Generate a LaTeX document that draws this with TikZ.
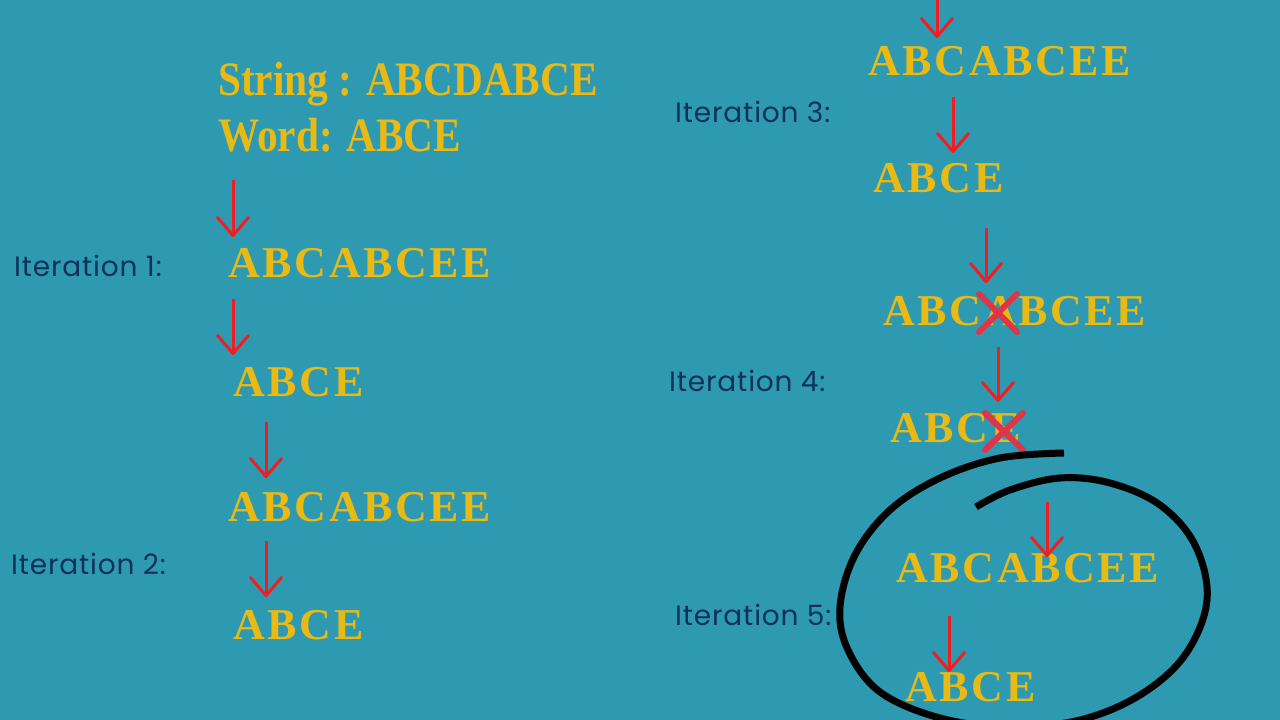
\documentclass[tikz,border=0pt]{standalone}
\usepackage{fontspec}
\setmainfont{Liberation Serif}
\newfontfamily\titlefont{Liberation Serif Bold}[FakeStretch=0.86]
\newfontfamily\wordfont{Liberation Serif Bold}[LetterSpace=6]
\newfontfamily\labelfont{Poppins}[LetterSpace=3]
\usetikzlibrary{arrows.meta}

\definecolor{bgteal}{RGB}{46,154,178}
\definecolor{wordyellow}{RGB}{233,185,20}
\definecolor{labelnavy}{RGB}{16,50,90}
\definecolor{arrowred}{RGB}{240,30,32}
\definecolor{crossred}{RGB}{224,52,72}

\begin{document}
\begin{tikzpicture}[x=1pt, y=1pt,
        title/.style={inner sep=0, anchor=base west, text=wordyellow,
            font=\titlefont\fontsize{48}{50}\selectfont},
        word/.style={inner sep=0, anchor=base west, text=wordyellow,
            font=\wordfont\fontsize{44}{46}\selectfont},
        iterlabel/.style={inner sep=0, anchor=base west, text=labelnavy,
            font=\labelfont\fontsize{28}{30}\selectfont},
        downarrow/.style={draw=arrowred, line width=3pt,
            -{Straight Barb[length=18pt, width=31pt, round]}},
        crossmark/.style={draw=crossred, line width=6pt, line cap=round}]

        \useasboundingbox (0, 0) rectangle (1280, 720);
        \fill [bgteal] (0, 0) rectangle (1280, 720);
        \clip (0, 0) rectangle (1280, 720);

        \node [title] (string) at (218, 624) {String : ABCDABCE};
        \node [title] (word) at (218, 568) {Word: ABCE};

        \node [iterlabel] (it1) at (14, 443) {Iteration 1:};
        \node [word] (w1) at (228, 442) {ABCABCEE};
        \node [word] (r1) at (233, 323) {ABCE};

        \node [word] (w2) at (228, 198) {ABCABCEE};
        \node [iterlabel] (it2) at (11, 145) {Iteration 2:};
        \node [word] (r2) at (233, 80) {ABCE};

        \node [word] (w3) at (868, 644) {ABCABCEE};
        \node [iterlabel] (it3) at (675, 597) {Iteration 3:};
        \node [word] (r3) at (873, 527) {ABCE};

        \node [word] (w4) at (883, 394) {ABCABCEE};
        \node [iterlabel] (it4) at (669, 328) {Iteration 4:};
        \node [word] (r4) at (890, 277) {ABCE};

        \node [word] (w5) at (896, 137) {ABCABCEE};
        \node [iterlabel] (it5) at (675, 94) {Iteration 5:};
        \node [word] (r5) at (905, 18) {ABCE};

        \coordinate (a1s) at (233, 540);
        \coordinate (a1e) at (233, 483);
        \coordinate (a2s) at (233, 421);
        \coordinate (a2e) at (233, 365);
        \coordinate (a3s) at (266, 298);
        \coordinate (a3e) at (266, 242);
        \coordinate (a4s) at (266, 179);
        \coordinate (a4e) at (266, 123);
        \coordinate (a5s) at (937, 730);
        \coordinate (a5e) at (937, 682);
        \coordinate (a6s) at (953, 623);
        \coordinate (a6e) at (953, 567);
        \coordinate (a7s) at (986, 492);
        \coordinate (a7e) at (986, 437);
        \coordinate (a8s) at (998, 373);
        \coordinate (a8e) at (998, 318);
        \coordinate (a9s) at (1047, 218);
        \coordinate (a9e) at (1047, 163);
        \coordinate (a10s) at (949, 104);
        \coordinate (a10e) at (949, 48);

        \draw [downarrow] (a1s) -- (a1e);
        \draw [downarrow] (a2s) -- (a2e);
        \draw [downarrow] (a3s) -- (a3e);
        \draw [downarrow] (a4s) -- (a4e);
        \draw [downarrow] (a5s) -- (a5e);
        \draw [downarrow] (a6s) -- (a6e);
        \draw [downarrow] (a7s) -- (a7e);
        \draw [downarrow] (a8s) -- (a8e);

        \draw [crossmark] (979, 426) -- (1017, 388);
        \draw [crossmark] (979, 388) -- (1017, 426);
        \draw [crossmark] (985, 307) -- (1023, 270);
        \draw [crossmark] (985, 270) -- (1023, 307);

        \draw [line width=7pt] plot [smooth, tension=0.6] coordinates {
            (1064, 267) (1000, 262) (940, 242) (890, 210) (855, 165) (840, 113)
            (848, 70) (880, 28) (940, 2) (1010, -7) (1080, 0) (1140, 25)
            (1185, 65) (1207, 120) (1195, 175) (1160, 215) (1110, 237)
            (1060, 242) (1010, 230) (976, 213)};

        \draw [downarrow] (a9s) -- (a9e);
        \draw [downarrow] (a10s) -- (a10e);

    \end{tikzpicture}
\end{document}
